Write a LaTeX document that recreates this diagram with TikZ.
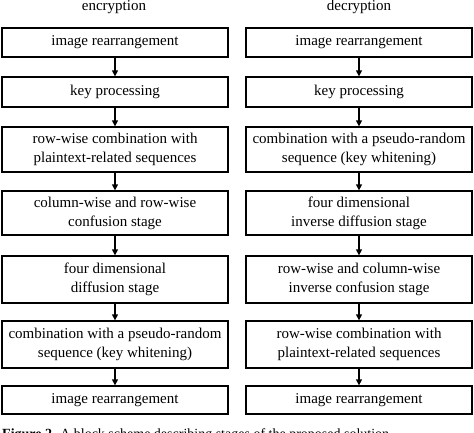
\documentclass[tikz,border=0pt]{standalone}
\usepackage{fontspec}
\setmainfont{Liberation Serif}
\usetikzlibrary{arrows.meta}
\begin{document}
\begin{tikzpicture}[x=1pt,y=-1pt,
  stagebox/.style={draw, line width=1.3pt, minimum width=226pt, inner sep=1pt, align=center, font=\fontsize{15}{19}\selectfont},
  flow/.style={line width=1.3pt, -{Triangle[length=6pt,width=6pt]}},
  title/.style={font=\fontsize{15}{18}\selectfont}]
\clip (0,0) rectangle (474,432);
\useasboundingbox (0,0) rectangle (474,432);
\node[title] (te) at (114,7) {encryption};
\node[title] (td) at (359,7) {decryption};
% encryption column
\node[stagebox, minimum height=29pt] (e1) at (115,42.5) {image rearrangement};
\node[stagebox, minimum height=30pt] (e2) at (115,92) {key processing};
\node[stagebox, minimum height=45pt] (e3) at (115,149.5) {row-wise combination with\\plaintext-related sequences};
\node[stagebox, minimum height=44pt] (e4) at (115,213) {column-wise and row-wise\\confusion stage};
\node[stagebox, minimum height=47pt] (e5) at (115,279.5) {four dimensional\\diffusion stage};
\node[stagebox, minimum height=47pt] (e6) at (115,344.5) {combination with a pseudo-random\\sequence (key whitening)};
\node[stagebox, minimum height=28pt] (e7) at (115,400) {image rearrangement};
% decryption column
\node[stagebox, minimum height=29pt] (d1) at (359,42.5) {image rearrangement};
\node[stagebox, minimum height=30pt] (d2) at (359,92) {key processing};
\node[stagebox, minimum height=45pt] (d3) at (359,149.5) {combination with a pseudo-random\\sequence (key whitening)};
\node[stagebox, minimum height=44pt] (d4) at (359,213) {four dimensional\\inverse diffusion stage};
\node[stagebox, minimum height=47pt] (d5) at (359,279.5) {row-wise and column-wise\\inverse confusion stage};
\node[stagebox, minimum height=47pt] (d6) at (359,344.5) {row-wise combination with\\plaintext-related sequences};
\node[stagebox, minimum height=28pt] (d7) at (359,400) {image rearrangement};
\foreach \a/\b in {1/2,2/3,3/4,4/5,5/6,6/7}{
  \draw[flow] (e\a) -- (e\b);
  \draw[flow] (d\a) -- (d\b);
}
\node[anchor=north west, inner sep=0pt, font=\fontsize{14}{16}\selectfont] (cap) at (2,428) {\textbf{Figure 2.} A block scheme describing stages of the proposed solution.};
\end{tikzpicture}
\end{document}
